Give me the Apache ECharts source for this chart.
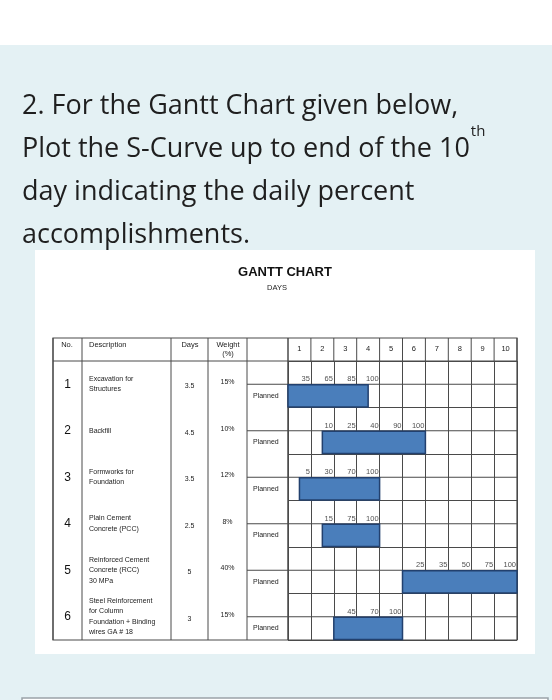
<!DOCTYPE html>
<html>
<head>
<meta charset="utf-8">
<script src="https://cdn.jsdelivr.net/npm/echarts@6/dist/echarts.min.js"></script>
<style>
  html, body { margin: 0; padding: 0; background: #e4f1f4; }
  #top { position: absolute; left: 0; top: 0; width: 552px; height: 45px; background: #fff; }
  #main { position: absolute; left: 0; top: 0; width: 552px; height: 700px; }
</style>
</head>
<body>
<div id="top"></div>
<div id="main"></div>
<script>
// table data
var taskNo = ['1', '2', '3', '4', '5', '6'];
var descriptions = [
  'Excavation for\nStructures',
  'Backfill',
  'Formworks for\nFoundation',
  'Plain Cement\nConcrete (PCC)',
  'Reinforced Cement\nConcrete (RCC)\n30 MPa',
  'Steel Reinforcement\nfor Column\nFoundation + Binding\nwires GA # 18'
];
var durations = ['3.5', '4.5', '3.5', '2.5', '5', '3'];
var weights = ['15%', '10%', '12%', '8%', '40%', '15%'];
var dayLabels = ['1', '2', '3', '4', '5', '6', '7', '8', '9', '10'];
// planned bars: start day, end day
var barStart = [0, 1.5, 0.5, 1.5, 5, 2];
var barEnd = [3.5, 6, 4, 4, 10, 5];
// cumulative % written at the end of each day: [day, row, value]
var pctMarks = [
  [1, 0, 35], [2, 0, 65], [3, 0, 85], [4, 0, 100],
  [2, 1, 10], [3, 1, 25], [4, 1, 40], [5, 1, 90], [6, 1, 100],
  [1, 2, 5], [2, 2, 30], [3, 2, 70], [4, 2, 100],
  [2, 3, 15], [3, 3, 75], [4, 3, 100],
  [6, 4, 25], [7, 4, 35], [8, 4, 50], [9, 4, 75], [10, 4, 100],
  [3, 5, 45], [4, 5, 70], [5, 5, 100]
];

var LINE = '#4a4a4a';
var FONT = 'Liberation Sans';
var TXT = '#222';
var QFONT = 'Open Sans';
var tableLeft = 53, tableTop = 338, headBottom = 361, tableBottom = 640, tableRight = 517;
var colX = [53, 82, 171, 208, 247, 288];

var chart = echarts.init(document.getElementById('main'));

var barData = taskNo.map(function (n, i) { return [barStart[i], barEnd[i], i]; });

var option = {
  animation: false,
  grid: { left: 288, right: 552 - tableRight, top: headBottom, height: tableBottom - headBottom },
  xAxis: [{
    type: 'value', min: 0, max: 10, interval: 1,
    axisLabel: { show: false }, axisTick: { show: false },
    axisLine: { show: false },
    splitLine: { show: true, lineStyle: { color: LINE, width: 1 } }
  }, {
    type: 'category', data: dayLabels, position: 'top',
    axisTick: { show: false }, axisLine: { show: false },
    axisLabel: { margin: 8, fontSize: 7.5, color: TXT, fontFamily: FONT }
  }],
  yAxis: {
    type: 'category', data: taskNo, inverse: true,
    axisLabel: { show: false }, axisTick: { show: false },
    axisLine: { show: false },
    splitLine: { show: true, lineStyle: { color: LINE, width: 1 } }
  },
  series: [{
    type: 'custom',
    data: barData,
    z: 3,
    renderItem: function (params, api) {
      var i = api.value(2);
      var p0 = api.coord([api.value(0), i]);
      var p1 = api.coord([api.value(1), i]);
      var h = api.size([0, 1])[1];
      var cy = p0[1];
      var left = api.coord([0, i])[0];
      return {
        type: 'group',
        children: [
          { type: 'line', shape: { x1: colX[4], y1: cy, x2: tableRight, y2: cy }, style: { stroke: LINE, lineWidth: 1 } },
          { type: 'line', shape: { x1: left, y1: cy - h / 2, x2: left, y2: cy + h / 2 }, style: { stroke: LINE, lineWidth: 1 } },
          { type: 'rect', shape: { x: p0[0], y: cy + 0.5, width: p1[0] - p0[0], height: h / 2 - 1 },
            style: { fill: '#4a7ebb', stroke: '#22406e', lineWidth: 1.5 } },
          { type: 'text', style: { text: 'Planned', x: colX[4] + 6, y: cy + h / 4, verticalAlign: 'middle', fontSize: 7, fill: TXT, fontFamily: FONT } },
          { type: 'text', style: { text: taskNo[i], x: (colX[0] + colX[1]) / 2, y: cy, align: 'center', verticalAlign: 'middle', fontSize: 12, fill: '#111', fontFamily: FONT } },
          { type: 'text', style: { text: descriptions[i], x: colX[1] + 7, y: cy, verticalAlign: 'middle', fontSize: 7, lineHeight: 10.5, fill: TXT, fontFamily: FONT } },
          { type: 'text', style: { text: durations[i], x: (colX[2] + colX[3]) / 2, y: cy + 2, align: 'center', verticalAlign: 'middle', fontSize: 7, fill: TXT, fontFamily: FONT } },
          { type: 'text', style: { text: weights[i], x: (colX[3] + colX[4]) / 2, y: cy - 2, align: 'center', verticalAlign: 'middle', fontSize: 7, fill: TXT, fontFamily: FONT } }
        ]
      };
    }
  }, {
    type: 'scatter',
    data: pctMarks,
    encode: { x: 0, y: 1 },
    symbolSize: 0,
    z: 4,
    label: {
      show: true, position: 'inside', align: 'right', offset: [-1, -5],
      fontSize: 7.5, color: TXT, fontFamily: FONT,
      formatter: function (p) { return String(p.value[2]); }
    }
  }]
};
chart.setOption(option);

// measure where the superscript goes
var ctx = document.createElement('canvas').getContext('2d');
ctx.font = '27px "' + QFONT + '"';
var line2 = 'Plot the S-Curve up to end of the 10';
var supX = 22 + ctx.measureText(line2).width + 1;

// decorative page + table frame, using pixel positions of the day axis
var dayX = [];
for (var d = 0; d <= 10; d++) dayX.push(chart.convertToPixel({ xAxisIndex: 0 }, d));
var g = [
  { type: 'rect', shape: { x: 35, y: 250, width: 500, height: 404 }, style: { fill: '#fff' }, z: -10 },
  { type: 'rect', shape: { x: 22, y: 698, width: 526, height: 20 }, style: { fill: '#fff', stroke: '#9aa3a8', lineWidth: 1.5 }, z: -10 },
  { type: 'text', style: { text: '2. For the Gantt Chart given below,\n' + line2 + '\nday indicating the daily percent\naccomplishments.', x: 22, y: 85, fontSize: 27, lineHeight: 43, fill: '#1f1f1f', fontFamily: QFONT } },
  { type: 'text', style: { text: 'th', x: supX, y: 124, fontSize: 15, fill: '#1f1f1f', fontFamily: QFONT } },
  { type: 'text', style: { text: 'GANTT CHART', x: 285, y: 272, align: 'center', verticalAlign: 'middle', fontSize: 13, fontWeight: 'bold', fill: '#111', fontFamily: FONT } },
  { type: 'text', style: { text: 'DAYS', x: 277, y: 288, align: 'center', verticalAlign: 'middle', fontSize: 7.5, fill: TXT, fontFamily: FONT } },
  { type: 'rect', shape: { x: tableLeft, y: tableTop, width: tableRight - tableLeft, height: tableBottom - tableTop }, style: { fill: 'none', stroke: LINE, lineWidth: 1.2 } },
  { type: 'line', shape: { x1: tableLeft, y1: headBottom, x2: tableRight, y2: headBottom }, style: { stroke: LINE, lineWidth: 1 } },
  { type: 'text', style: { text: 'No.', x: 67, y: 345, align: 'center', verticalAlign: 'middle', fontSize: 7.5, fill: TXT, fontFamily: FONT } },
  { type: 'text', style: { text: 'Description', x: 89, y: 345, verticalAlign: 'middle', fontSize: 7.5, fill: TXT, fontFamily: FONT } },
  { type: 'text', style: { text: 'Days', x: 190, y: 345, align: 'center', verticalAlign: 'middle', fontSize: 7.5, fill: TXT, fontFamily: FONT } },
  { type: 'text', style: { text: 'Weight\n(%)', x: 228, y: 349, align: 'center', verticalAlign: 'middle', fontSize: 7.5, lineHeight: 9, fill: TXT, fontFamily: FONT } }
];
colX.forEach(function (x) {
  g.push({ type: 'line', shape: { x1: x, y1: tableTop, x2: x, y2: tableBottom }, style: { stroke: LINE, lineWidth: 1 } });
});
dayX.forEach(function (x) {
  g.push({ type: 'line', shape: { x1: x, y1: tableTop, x2: x, y2: headBottom }, style: { stroke: LINE, lineWidth: 1 } });
});
chart.setOption({ graphic: g });
</script>
</body>
</html>
